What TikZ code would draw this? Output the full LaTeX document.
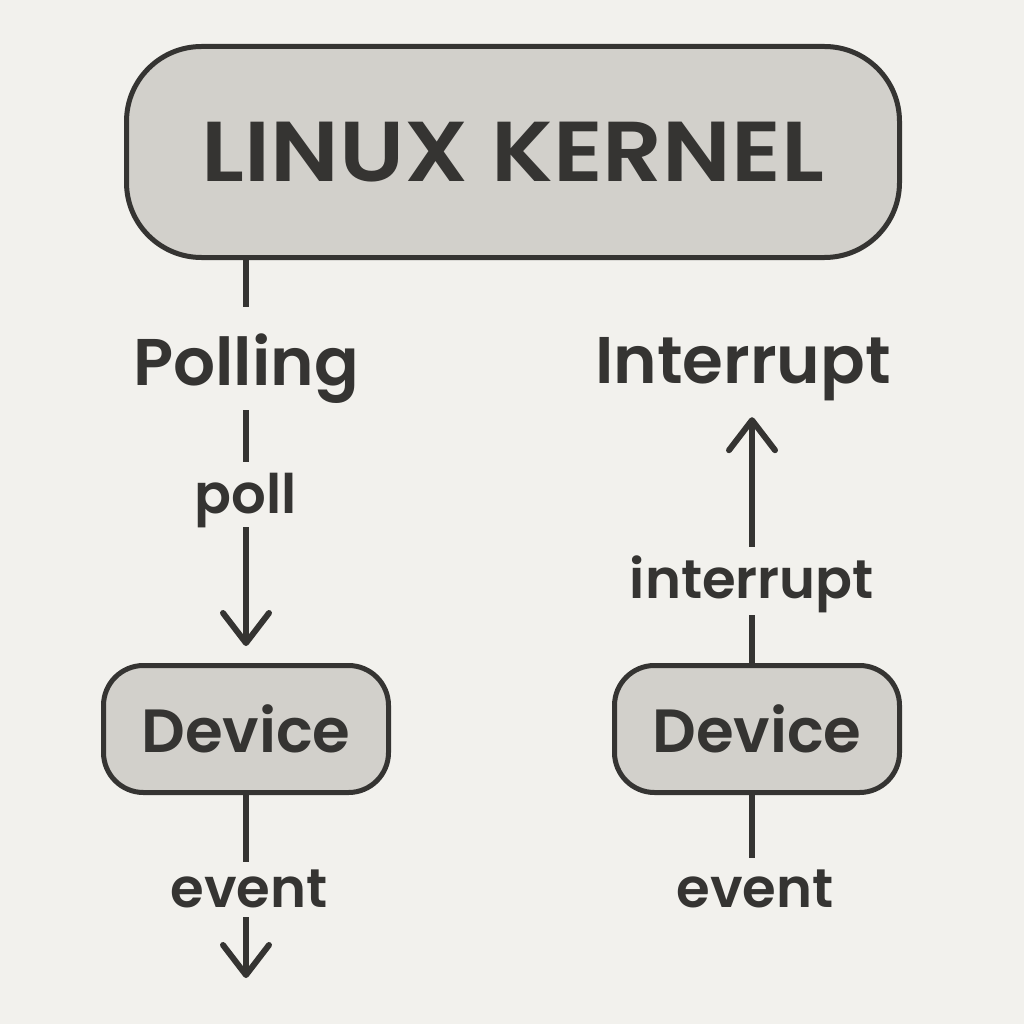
\documentclass[tikz,border=0pt]{standalone}
\usepackage{fontspec}
\setmainfont{Poppins}[BoldFont={Poppins SemiBold}]
\usetikzlibrary{arrows.meta}
\definecolor{bg}{HTML}{F2F1ED}
\definecolor{boxfill}{HTML}{D2D0CB}
\definecolor{ink}{HTML}{353432}
\begin{document}
\begin{tikzpicture}[x=1pt,y=-1pt,
  box/.style={draw=ink, fill=boxfill, line width=5pt, rounded corners=40pt, inner sep=0pt, text=ink},
  lbl/.style={text=ink, inner sep=0pt, anchor=base, font=\bfseries\fontsize{54.5}{60}\selectfont},
  big/.style={text=ink, inner sep=0pt, anchor=base, font=\bfseries\fontsize{66}{80}\selectfont},
  conn/.style={draw=ink, line width=6pt},
  arr/.style={conn, -{Straight Barb[length=30pt,width=46pt,round]}}]
\fill[bg] (0,0) rectangle (1024,1024);
\useasboundingbox (0,0) rectangle (1024,1024);
% kernel
\node[box, rounded corners=75pt, minimum width=773pt, minimum height=211pt,
      font=\bfseries\fontsize{85}{90}\selectfont] (kernel) at (513,152) {\scalebox{1.1}[1]{LINUX KERNEL}};
% left column
\node[big, text height=78pt, text depth=25pt] (polling) at (246,385) {Polling};
\node[lbl, text height=51pt, text depth=14pt] (poll) at (246,513) {poll};
\node[box, minimum width=285pt, minimum height=127pt,
      font=\bfseries\fontsize{61}{70}\selectfont] (devL) at (246,729) {Device};
\node[lbl, text height=45pt, text depth=10pt] (evL) at (249,907) {event};
\coordinate (evLend) at (246,978);
% right column
\node[big, text depth=34pt] (intr) at (743,383) {Interrupt};
\node[lbl, text height=51pt, text depth=17pt] (intl) at (752,598) {interrupt};
\node[box, minimum width=285pt, minimum height=127pt,
      font=\bfseries\fontsize{61}{70}\selectfont] (devR) at (757,729) {Device};
\node[lbl, text height=49pt, text depth=10pt] (evR) at (755,907) {event};
% connectors
\draw[conn] (kernel.south -| polling) -- (polling);
\draw[conn] (polling) -- (poll);
\draw[arr, shorten >=17pt] (poll) -- (devL.north);
\draw[conn] (devL.south -| devL) -- (devL |- evL.north);
\draw[arr] (evL.south -| evLend) -- (evLend);
\draw[arr] (intl) -- (intl |- intr.south);
\draw[conn] (devR.north -| intl) -- (intl);
\draw[conn] (devR.south -| intl) -- (intl |- evR.north);
\end{tikzpicture}
\end{document}
